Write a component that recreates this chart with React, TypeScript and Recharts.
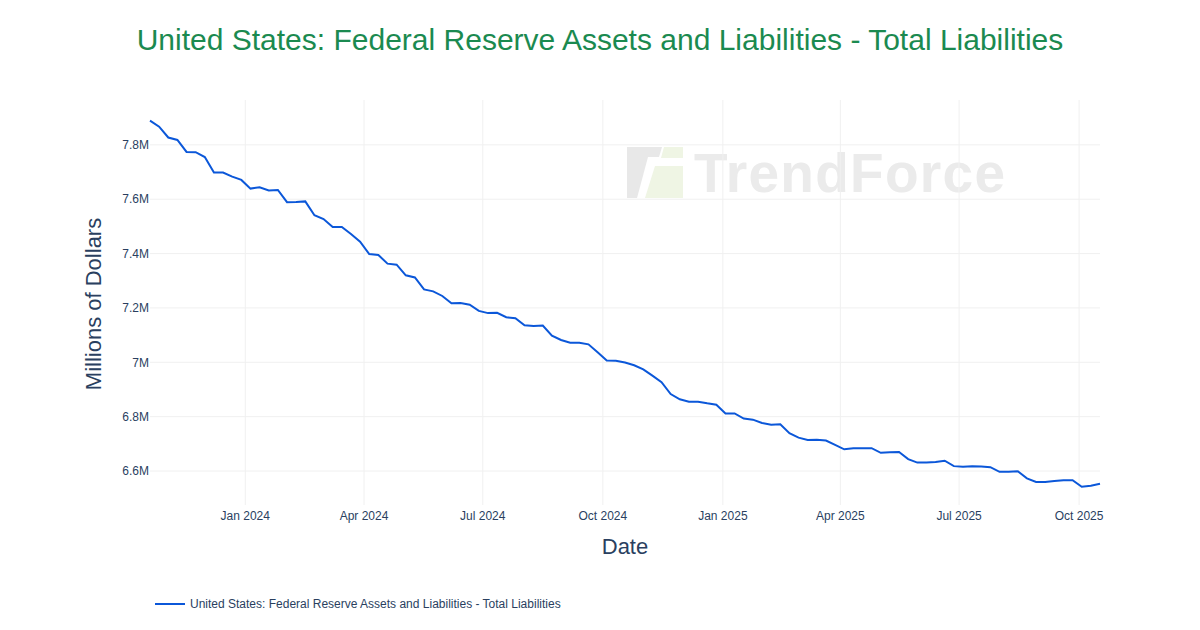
import { CartesianGrid, Line, LineChart, XAxis, YAxis } from "recharts";

const FONT = '"Liberation Sans", Arial, sans-serif';
const INK = "#2a3f5f";
const LINE_BLUE = "#0b57d9";
const TITLE = "United States: Federal Reserve Assets and Liabilities - Total Liabilities";

// weekly observations, first one on this date
const FIRST_WEEK = "2023-10-20";

// total liabilities, billions of dollars
const liabilitiesBn = [
  7889, 7867, 7827, 7818, 7774, 7773, 7755, 7698, 7698, 7683,
  7671, 7639, 7644, 7632, 7634, 7589, 7590, 7592, 7541, 7527,
  7498, 7498, 7472, 7444, 7398, 7395, 7363, 7359, 7320, 7312,
  7268, 7261, 7244, 7217, 7218, 7212, 7189, 7181, 7182, 7166,
  7162, 7136, 7134, 7135, 7098, 7082, 7072, 7072, 7066, 7037,
  7007, 7006, 6999, 6989, 6974, 6951, 6927, 6883, 6864, 6855,
  6855, 6849, 6844, 6812, 6812, 6793, 6789, 6777, 6770, 6772,
  6739, 6723, 6714, 6715, 6712, 6696, 6680, 6684, 6684, 6684,
  6667, 6669, 6670, 6644, 6631, 6631, 6633, 6638, 6618, 6616,
  6618, 6617, 6614, 6597, 6597, 6599, 6573, 6560, 6560, 6563,
  6566, 6566, 6542, 6546, 6553,
];

const xTickDates = [
  "2024-01-01", "2024-04-01", "2024-07-01", "2024-10-01",
  "2025-01-01", "2025-04-01", "2025-07-01", "2025-10-01",
];
const yTicks = [6600000, 6800000, 7000000, 7200000, 7400000, 7600000, 7800000];
const MONTHS = ["Jan", "Feb", "Mar", "Apr", "May", "Jun", "Jul", "Aug", "Sep", "Oct", "Nov", "Dec"];

const WEEK_MS = 7 * 24 * 3600 * 1000;
const start = Date.parse(FIRST_WEEK);
const data = liabilitiesBn.map((bn, i) => ({ date: start + i * WEEK_MS, value: bn * 1000 }));
const xTicks = xTickDates.map((d) => Date.parse(d));

const fmtDate = (t: number) => {
  const d = new Date(t);
  return `${MONTHS[d.getUTCMonth()]} ${d.getUTCFullYear()}`;
};
const fmtMillions = (v: number) => `${v / 1e6}M`;

function Backdrop() {
  return (
    <svg width={1200} height={630} style={{ position: "absolute", left: 0, top: 0 }}>
      {/* TrendForce watermark */}
      <g opacity={0.9}>
        <polygon points="627,147 662,147 659,157 648,157 637,198 627,198" fill="#e6e6e6" />
        <polygon points="664,147 683,147 683,158 661,158" fill="#eef4e2" />
        <polygon points="655,166 683,166 683,198 645,198" fill="#eef4e2" />
        <text x={694} y={192} fontFamily={FONT} fontWeight={700} fontSize={55} fill="#e9e9e9" textLength={311}>
          TrendForce
        </text>
      </g>
      <text x={625} y={554} textAnchor="middle" fontFamily={FONT} fontSize={22} fill={INK}>
        Date
      </text>
      <text transform="translate(101,304) rotate(-90)" textAnchor="middle" fontFamily={FONT} fontSize={22} fill={INK}>
        Millions of Dollars
      </text>
    </svg>
  );
}

export default function App() {
  return (
    <div style={{ position: "absolute", left: 0, top: 0, width: 1200, height: 630, background: "#fff", fontFamily: FONT }}>
      <Backdrop />
      <div style={{ position: "absolute", left: 0, top: 0 }}>
        <LineChart width={1200} height={630} data={data} margin={{ top: 100, right: 100, bottom: 95, left: 90 }}>
          <CartesianGrid stroke="#f0f0f0" strokeWidth={1} horizontalValues={yTicks} verticalValues={xTicks} />
          <XAxis
            dataKey="date"
            type="number"
            scale="time"
            domain={[data[0].date, data[data.length - 1].date]}
            ticks={xTicks}
            interval={0}
            tickFormatter={fmtDate}
            axisLine={false}
            tickLine={false}
            tickSize={0}
            tickMargin={6}
            height={30}
            tick={{ fontSize: 12, fill: INK, fontFamily: FONT }}
          />
          <YAxis
            type="number"
            domain={[6475000, 7965000]}
            ticks={yTicks}
            interval={0}
            tickFormatter={fmtMillions}
            axisLine={false}
            tickLine={false}
            tickSize={0}
            tickMargin={1}
            width={60}
            allowDataOverflow
            tick={{ fontSize: 12, fill: INK, fontFamily: FONT }}
          />
          <Line
            type="linear"
            dataKey="value"
            stroke={LINE_BLUE}
            strokeWidth={2}
            dot={false}
            activeDot={false}
            isAnimationActive={false}
          />
        </LineChart>
      </div>
      <div
        style={{
          position: "absolute",
          top: 25,
          left: 0,
          width: 1200,
          textAlign: "center",
          fontSize: 30,
          lineHeight: "30px",
          color: "#1b8a50",
          whiteSpace: "nowrap",
        }}
      >
        {TITLE}
      </div>
      <div style={{ position: "absolute", left: 155, top: 596, display: "flex", alignItems: "center", height: 16 }}>
        <div style={{ width: 30, height: 2, background: LINE_BLUE }} />
        <span style={{ marginLeft: 5, fontSize: 12, color: INK }}>{TITLE}</span>
      </div>
    </div>
  );
}
